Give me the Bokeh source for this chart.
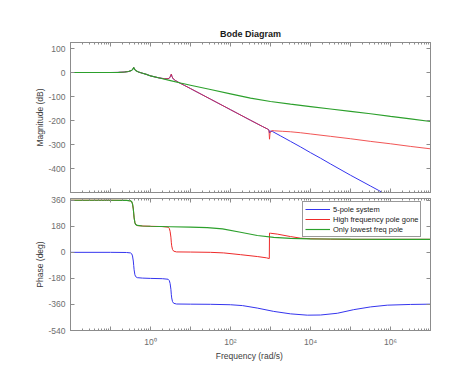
import numpy as np
from bokeh.plotting import figure
from bokeh.models import Range1d, FixedTicker, LogAxis, LinearAxis, Legend, LegendItem
from bokeh.layouts import column
from bokeh.embed import file_html
from bokeh.resources import INLINE

# ---------------- data (log10 of frequency in rad/s) ----------------
series_names = ["5-pole system", "High frequency pole gone", "Only lowest freq pole"]

mag_blue_logw = [-2, -1, -0.8, -0.65, -0.55, -0.48, -0.45, -0.43, -0.42, -0.41,
                 -0.39, -0.36, -0.3, -0.2, -0.1, 0, 0.2, 0.35, 0.44, 0.48,
                 0.5, 0.52, 0.54, 0.57, 0.62, 0.7, 0.85, 1.0, 1.5, 2.0,
                 2.5, 2.8, 2.92, 2.96, 2.975, 2.99, 3.05, 3.25, 3.5, 3.75,
                 4.0, 4.25, 4.5, 5.0, 5.5, 5.8, 6.0, 6.5]
mag_blue = [0, 0, 0.5, 2, 4, 8, 12, 17, 21, 17,
            12, 7, 2, -3, -8, -14, -22, -26, -26, -22,
            -15, -7, -18, -27, -33, -41, -54, -67, -111, -155,
            -199, -225, -235, -239, -252, -244, -246, -264, -287, -310,
            -334, -357, -381, -428, -473, -500, -518, -560]

mag_red_logw = [-2, -1, -0.8, -0.65, -0.55, -0.48, -0.45, -0.43, -0.42, -0.41,
                -0.39, -0.36, -0.3, -0.2, -0.1, 0, 0.2, 0.35, 0.44, 0.48,
                0.5, 0.52, 0.54, 0.57, 0.62, 0.7, 0.85, 1.0, 1.5, 2.0,
                2.5, 2.8, 2.92, 2.96, 2.975, 2.99, 3.03, 3.1, 3.3, 3.5,
                3.75, 4.0, 4.5, 5.0, 5.5, 6.0, 6.5, 7.0]
mag_red = [0, 0, 0.5, 2, 4, 8, 12, 17, 21, 17,
           12, 7, 2, -3, -8, -14, -22, -26, -26, -22,
           -15, -7, -18, -27, -33, -41, -54, -67, -111, -155,
           -199, -225, -235, -240, -278, -252, -242, -243, -245, -247,
           -251, -256, -266, -276, -287, -297, -308, -318]

mag_green_logw = [-2, -1, -0.8, -0.65, -0.55, -0.48, -0.45, -0.43, -0.42, -0.41,
                  -0.39, -0.36, -0.3, -0.2, -0.1, 0, 0.25, 0.5, 0.75, 1.0,
                  1.5, 2.0, 2.5, 3.0, 3.5, 4.0, 4.5, 5.0, 5.5, 6.0, 6.5, 7.0]
mag_green = [0, 0, 0.5, 2, 4, 8, 12, 17, 21, 17,
             12, 7, 2, -3, -8, -14, -24, -34, -44, -53,
             -71, -89, -107, -121, -132, -142, -152, -162, -172, -183, -193, -204]

ph_blue_logw = [-2, -1, -0.6, -0.5, -0.47, -0.45, -0.43, -0.42, -0.41, -0.39,
                -0.37, -0.33, -0.2, 0, 0.3, 0.44, 0.47, 0.49, 0.51, 0.52,
                0.53, 0.55, 0.58, 0.65, 1.0, 1.5, 2.0, 2.3, 2.67, 3.08,
                3.5, 3.92, 4.25, 4.67, 5.08, 5.5, 5.92, 6.5, 7.0]
ph_blue = [0, 0, -1, -4, -10, -25, -60, -90, -120, -155,
           -168, -175, -178, -180, -182, -186, -195, -215, -255, -290,
           -315, -340, -352, -357, -358, -359, -362, -368, -385, -408,
           -425, -434, -433, -421, -396, -377, -365, -360, -358]

ph_red_logw = [-2, -1, -0.6, -0.5, -0.47, -0.45, -0.43, -0.42, -0.41, -0.39,
               -0.37, -0.33, -0.2, 0, 0.3, 0.44, 0.47, 0.49, 0.51, 0.52,
               0.53, 0.55, 0.58, 0.65, 1.0, 1.5, 1.83, 2.25, 2.67, 2.9,
               2.97, 2.975, 3.0, 3.17, 3.5, 3.75, 4.0, 4.5, 5.0, 6.0, 7.0]
ph_red = [360, 360, 359, 356, 350, 335, 300, 270, 240, 205,
          192, 185, 182, 180, 178, 174, 165, 145, 105, 70,
          45, 20, 8, 3, 2, 0, -4, -16, -29, -38,
          -43, 133, 132, 126, 109, 98, 94, 91, 90, 90, 90]

ph_green_logw = [-2, -1, -0.6, -0.5, -0.47, -0.45, -0.43, -0.42, -0.41, -0.39,
                 -0.37, -0.33, -0.2, 0, 0.5, 1.0, 1.42, 1.8, 2.25, 2.67,
                 3.08, 3.5, 4.0, 4.5, 5.0, 6.0, 7.0]
ph_green = [360, 360, 359, 356, 350, 335, 300, 270, 240, 205,
            192, 186, 182, 180, 177, 174, 171, 162, 139, 116,
            103, 96, 93, 92, 91, 90, 90]

mag_ticks = [-400, -300, -200, -100, 0, 100]
mag_tick_labels = ["-400", "-300", "-200", "-100", "0", "100"]
phase_ticks = [-540, -360, -180, 0, 180, 360]
phase_tick_labels = ["-540", "-360", "-180", "0", "180", "360"]
x_tick_labels = {1.0: "10\u2070", 100.0: "10\u00b2", 10000.0: "10\u2074", 1000000.0: "10\u2076"}

# ---------------- style ----------------
FONT = "Liberation Sans"
AX = "#8c8c8c"
TXT = "#6e6e6e"
LAB = "#3c3c3c"
C_BLUE, C_RED, C_GREEN = "#3535ee", "#ee2a2a", "#2ca02c"

decades = [10.0 ** e for e in range(-2, 8)]
minors = [k * 10.0 ** e for e in range(-2, 7) for k in range(2, 10)]
overrides = {d: x_tick_labels.get(d, " ") for d in decades}

x_range = Range1d(1e-2, 1e7)


def w(logs):
    return [10.0 ** v for v in logs]


def style_axis(ax, labels=True):
    ax.axis_line_color = AX
    ax.major_tick_line_color = AX
    ax.minor_tick_line_color = AX
    ax.major_tick_in = 4
    ax.major_tick_out = 0
    ax.minor_tick_in = 2
    ax.minor_tick_out = 0
    ax.major_label_text_font = FONT
    ax.major_label_text_color = TXT
    if labels:
        ax.major_label_text_font_size = "8.5px"
    else:
        ax.major_label_text_font_size = "1px"
        ax.major_label_text_alpha = 0.0
        ax.major_label_standoff = 0


def make_fig(height, yr, yticks, ylabels, top, bottom, ylabel):
    p = figure(width=466, height=height, x_axis_type="log", x_range=x_range, y_range=yr,
               output_backend="svg", toolbar_location=None,
               min_border_left=70, min_border_right=36,
               min_border_top=top, min_border_bottom=bottom)
    p.grid.visible = False
    p.outline_line_color = AX
    bottom_ax = p.below[0]
    left_ax = p.left[0]
    bottom_ax.ticker = FixedTicker(ticks=decades, minor_ticks=minors)
    left_ax.ticker = FixedTicker(ticks=yticks)
    left_ax.major_label_overrides = dict(zip(yticks, ylabels))
    style_axis(left_ax)
    left_ax.minor_tick_in = 0
    left_ax.major_label_standoff = 5
    left_ax.axis_label = ylabel
    left_ax.axis_label_text_font = FONT
    left_ax.axis_label_text_font_size = "8.5px"
    left_ax.axis_label_text_font_style = "normal"
    left_ax.axis_label_text_color = LAB
    left_ax.axis_label_standoff = 0
    top_ax = LogAxis(ticker=FixedTicker(ticks=decades, minor_ticks=minors))
    style_axis(top_ax, labels=False)
    p.add_layout(top_ax, "above")
    right_ax = LinearAxis(ticker=FixedTicker(ticks=yticks))
    style_axis(right_ax, labels=False)
    right_ax.minor_tick_in = 0
    p.add_layout(right_ax, "right")
    return p, bottom_ax


# ---------------- magnitude ----------------
p1, p1_bottom = make_fig(195, Range1d(-500, 125), mag_ticks, mag_tick_labels, 42, 3, "Magnitude (dB)")
style_axis(p1_bottom, labels=False)
p1.title.text = "Bode Diagram"
p1.title.align = "center"
p1.title.text_font = FONT
p1.title.text_font_size = "9px"
p1.title.text_font_style = "bold"
p1.title.text_color = "#1a1a1a"
p1.title.standoff = 7

p1.line(w(mag_blue_logw), mag_blue, line_color=C_BLUE, line_width=1)
p1.line(w(mag_red_logw), mag_red, line_color=C_RED, line_width=1, line_alpha=0.8)
p1.line(w(mag_green_logw), mag_green, line_color=C_GREEN, line_width=1.15)

# ---------------- phase ----------------
p2, p2_bottom = make_fig(168, Range1d(-540, 372), phase_ticks, phase_tick_labels, 3, 31, "Phase (deg)")
style_axis(p2_bottom)
p2_bottom.major_label_overrides = overrides
p2_bottom.major_label_standoff = 6
p2_bottom.axis_label = "Frequency  (rad/s)"
p2_bottom.axis_label_text_font = FONT
p2_bottom.axis_label_text_font_size = "8.5px"
p2_bottom.axis_label_text_font_style = "normal"
p2_bottom.axis_label_text_color = LAB
p2_bottom.axis_label_standoff = 1

rb = p2.line(w(ph_blue_logw), ph_blue, line_color=C_BLUE, line_width=1)
rr = p2.line(w(ph_red_logw), ph_red, line_color=C_RED, line_width=1)
rg = p2.line(w(ph_green_logw), ph_green, line_color=C_GREEN, line_width=1.15)

legend = Legend(items=[LegendItem(label=series_names[0], renderers=[rb]),
                       LegendItem(label=series_names[1], renderers=[rr]),
                       LegendItem(label=series_names[2], renderers=[rg])],
                location=(232, 93), orientation="vertical",
                padding=2, spacing=0, margin=0,
                glyph_width=25, glyph_height=10, label_height=10, label_standoff=3,
                label_text_font=FONT, label_text_font_size="7.5px", label_text_color="#222222",
                border_line_color="#333333", border_line_width=1,
                background_fill_color="white", background_fill_alpha=1.0)
p2.add_layout(legend)

layout = column(p1, p2)
open("out.html", "w").write(file_html(layout, INLINE))
